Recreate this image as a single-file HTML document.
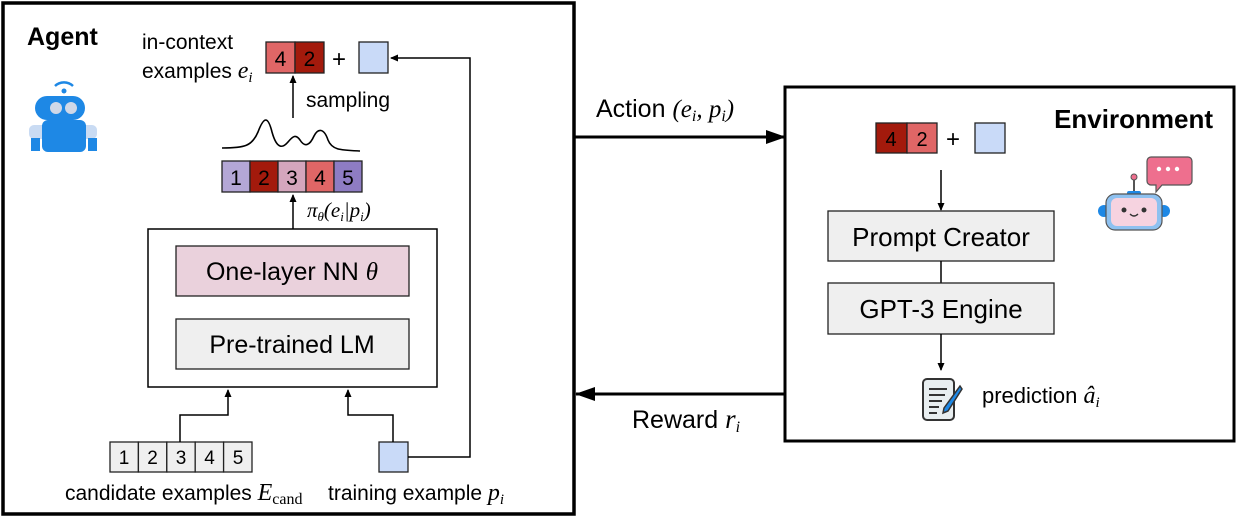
<!DOCTYPE html>
<html><head><meta charset="utf-8"><style>
html,body{margin:0;padding:0;background:#fff;}
svg{display:block;font-family:"Liberation Sans",sans-serif;}
.m{font-family:"Liberation Serif",serif;font-style:italic;}
</style></head><body>
<svg width="1238" height="520" viewBox="0 0 1238 520" xmlns="http://www.w3.org/2000/svg">
<defs>
<marker id="a" markerWidth="8" markerHeight="8" refX="7" refY="4" orient="auto" markerUnits="userSpaceOnUse"><path d="M0,0.5 L8,4 L0,7.5z" fill="#000"/></marker>
<marker id="b" markerWidth="20" markerHeight="16" refX="19" refY="8" orient="auto" markerUnits="userSpaceOnUse"><path d="M0,1 L20,8 L0,15z" fill="#000"/></marker>
</defs>
<rect x="3" y="3" width="571" height="511" fill="none" stroke="#000" stroke-width="3.5"/>
<text x="27" y="45" font-size="25" font-weight="bold">Agent</text>
<g fill="#1e88e5">
<path d="M55,86 a13,13 0 0 1 18,0" fill="none" stroke="#1e88e5" stroke-width="2.5"/>
<circle cx="64" cy="91" r="2.5"/>
<rect x="35" y="96" width="50" height="24" rx="12"/>
<circle cx="56" cy="108" r="6" fill="#cfd8e8"/><circle cx="71" cy="108" r="6" fill="#cfd8e8"/>
<rect x="29" y="125" width="68" height="14" rx="5" fill="#c9dbf3"/>
<rect x="42" y="120" width="44" height="32" rx="6"/>
<rect x="31" y="138" width="9" height="13"/><rect x="88" y="138" width="9" height="13"/>
</g>
<text x="142" y="49" font-size="21">in-context</text>
<text x="142" y="78" font-size="21">examples <tspan class="m" font-size="24">e</tspan><tspan class="m" font-size="15" dy="4">i</tspan></text>
<rect x="266" y="42" width="29" height="31" fill="#e06666" stroke="#222" stroke-width="1.3"/>
<rect x="295" y="42" width="29" height="31" fill="#a31a0c" stroke="#222" stroke-width="1.3"/>
<text x="280.5" y="66" font-size="21" text-anchor="middle">4</text>
<text x="309.5" y="66" font-size="21" text-anchor="middle">2</text>
<text x="339" y="67" font-size="24" text-anchor="middle">+</text>
<rect x="359" y="42" width="29" height="31" fill="#c9daf8" stroke="#222" stroke-width="1.3"/>
<line x1="293" y1="118" x2="293" y2="76" stroke="#000" stroke-width="1.5" marker-end="url(#a)"/>
<text x="306" y="107" font-size="21">sampling</text>
<path d="M222,148 C245,148 252,146 258,132 C264,116 268,116 272,132 C277,150 283,148 288,142 C293,136 296,134 300,140 C305,148 310,145 314,136 C318,128 324,128 328,140 C332,150 340,150 360,151" fill="none" stroke="#000" stroke-width="1.6"/>
<g stroke="#222" stroke-width="1.3">
<rect x="222" y="161" width="28" height="31" fill="#b4a7d6"/>
<rect x="250" y="161" width="28" height="31" fill="#a31a0c"/>
<rect x="278" y="161" width="28" height="31" fill="#d5a6bd"/>
<rect x="306" y="161" width="28" height="31" fill="#e06666"/>
<rect x="334" y="161" width="28" height="31" fill="#8e7cc3"/>
</g>
<g font-size="21" text-anchor="middle">
<text x="236" y="185">1</text><text x="264" y="185">2</text><text x="292" y="185">3</text><text x="320" y="185">4</text><text x="348" y="185">5</text>
</g>
<line x1="293" y1="229" x2="293" y2="195" stroke="#000" stroke-width="1.5" marker-end="url(#a)"/>
<text x="307" y="217" class="m" font-size="21">π<tspan font-size="13" dy="4">θ</tspan><tspan dy="-4">(e</tspan><tspan font-size="13" dy="4">i</tspan><tspan dy="-4">|p</tspan><tspan font-size="13" dy="4">i</tspan><tspan dy="-4">)</tspan></text>
<rect x="148" y="229" width="289" height="158" fill="none" stroke="#000" stroke-width="1.5"/>
<rect x="176" y="246" width="233" height="50" fill="#ead1dc" stroke="#222" stroke-width="1.3"/>
<text x="292" y="280" font-size="25" text-anchor="middle">One-layer NN <tspan class="m">θ</tspan></text>
<rect x="176" y="319" width="233" height="50" fill="#efefef" stroke="#222" stroke-width="1.3"/>
<text x="292" y="353" font-size="25" text-anchor="middle">Pre-trained LM</text>
<g stroke="#222" stroke-width="1.3" fill="#efefef">
<rect x="110" y="442" width="28.4" height="30"/><rect x="138.4" y="442" width="28.4" height="30"/><rect x="166.8" y="442" width="28.4" height="30"/><rect x="195.2" y="442" width="28.4" height="30"/><rect x="223.6" y="442" width="28.4" height="30"/>
</g>
<g font-size="19" text-anchor="middle">
<text x="124" y="464">1</text><text x="152.5" y="464">2</text><text x="181" y="464">3</text><text x="209.5" y="464">4</text><text x="238" y="464">5</text>
</g>
<polyline points="180,442 180,415 228,415 228,390" fill="none" stroke="#000" stroke-width="1.5" marker-end="url(#a)"/>
<rect x="379" y="442" width="29" height="30" fill="#c9daf8" stroke="#222" stroke-width="1.3"/>
<polyline points="393,442 393,415 348,415 348,390" fill="none" stroke="#000" stroke-width="1.5" marker-end="url(#a)"/>
<polyline points="408,457 470,457 470,58 391,58" fill="none" stroke="#000" stroke-width="1.5" marker-end="url(#a)"/>
<text x="65" y="500" font-size="21">candidate examples <tspan class="m" font-size="24">E</tspan><tspan font-family="Liberation Serif" font-size="16" dy="4">cand</tspan></text>
<text x="328" y="500" font-size="21">training example <tspan class="m" font-size="24">p</tspan><tspan class="m" font-size="15" dy="4">i</tspan></text>
<line x1="574" y1="137" x2="785" y2="137" stroke="#000" stroke-width="3" marker-end="url(#b)"/>
<text x="596" y="117" font-size="25">Action <tspan class="m">(e</tspan><tspan class="m" font-size="16" dy="4">i</tspan><tspan class="m" dy="-4">, p</tspan><tspan class="m" font-size="16" dy="4">i</tspan><tspan class="m" dy="-4">)</tspan></text>
<line x1="785" y1="394" x2="576" y2="394" stroke="#000" stroke-width="3" marker-end="url(#b)"/>
<text x="632" y="428" font-size="25">Reward <tspan class="m" font-size="27">r</tspan><tspan class="m" font-size="16" dy="4">i</tspan></text>
<rect x="785" y="87" width="449" height="354" fill="none" stroke="#000" stroke-width="3"/>
<text x="1213" y="128" font-size="26" font-weight="bold" text-anchor="end">Environment</text>
<rect x="876" y="123" width="31" height="30" fill="#a31a0c" stroke="#222" stroke-width="1.3"/>
<rect x="907" y="123" width="30" height="30" fill="#e06666" stroke="#222" stroke-width="1.3"/>
<text x="891" y="146" font-size="20" text-anchor="middle">4</text>
<text x="922" y="146" font-size="20" text-anchor="middle">2</text>
<text x="953" y="147" font-size="24" text-anchor="middle">+</text>
<rect x="975" y="123" width="30" height="30" fill="#c9daf8" stroke="#222" stroke-width="1.3"/>
<line x1="941" y1="170" x2="941" y2="210" stroke="#000" stroke-width="1.5" marker-end="url(#a)"/>
<rect x="828" y="211" width="226" height="50" fill="#efefef" stroke="#222" stroke-width="1.3"/>
<text x="941" y="246" font-size="26" text-anchor="middle">Prompt Creator</text>
<line x1="941" y1="261" x2="941" y2="283" stroke="#000" stroke-width="1.5"/>
<rect x="828" y="283" width="226" height="51" fill="#efefef" stroke="#222" stroke-width="1.3"/>
<text x="941" y="318" font-size="26" text-anchor="middle">GPT-3 Engine</text>
<line x1="941" y1="334" x2="941" y2="370" stroke="#000" stroke-width="1.5" marker-end="url(#a)"/>
<rect x="923" y="379" width="31" height="41" rx="4" fill="#e8eef0" stroke="#333" stroke-width="2"/>
<g stroke="#333" stroke-width="2"><line x1="929" y1="389" x2="947" y2="389"/><line x1="929" y1="395" x2="945" y2="395"/><line x1="929" y1="401" x2="942" y2="401"/><line x1="929" y1="407" x2="939" y2="407"/><line x1="929" y1="413" x2="937" y2="413"/></g>
<path d="M960,386 L962,389 L948,411 L943,413 L944,408z" fill="#1e88e5" stroke="#333" stroke-width="1.5"/>
<text x="982" y="403" font-size="22">prediction <tspan class="m" font-size="24">â</tspan><tspan class="m" font-size="15" dy="4">i</tspan></text>
<path d="M1151,157 h37 a4,4 0 0 1 4,4 v20 a4,4 0 0 1 -4,4 h-26 l-6,7 v-7 h-5 a4,4 0 0 1 -4,-4 v-20 a4,4 0 0 1 4,-4z" fill="#ee6f8e" stroke="#555" stroke-width="1.2"/>
<circle cx="1159" cy="169" r="2.2" fill="#fff"/><circle cx="1168" cy="169" r="2.2" fill="#fff"/><circle cx="1177" cy="169" r="2.2" fill="#fff"/>
<line x1="1134" y1="178" x2="1134" y2="193" stroke="#555" stroke-width="2"/>
<circle cx="1134" cy="177" r="3" fill="#ee6f8e" stroke="#555"/>
<rect x="1127" y="191" width="14" height="6" rx="2" fill="#1e88e5"/>
<circle cx="1104" cy="211" r="6" fill="#1e88e5"/><circle cx="1164" cy="211" r="6" fill="#1e88e5"/>
<rect x="1106" y="194" width="56" height="36" rx="9" fill="#8ec1f0" stroke="#555" stroke-width="1.2"/>
<rect x="1111" y="198" width="46" height="28" rx="6" fill="#f6d3e0"/>
<circle cx="1124" cy="210" r="2.5" fill="#333"/><circle cx="1144" cy="210" r="2.5" fill="#333"/>
<path d="M1130,214 q4,4 8,0" fill="none" stroke="#333" stroke-width="1.3"/>
</svg>
</body></html>
